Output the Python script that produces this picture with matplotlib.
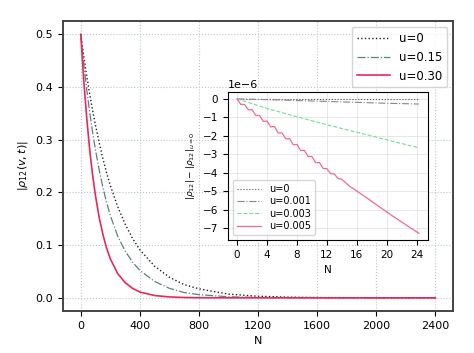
import matplotlib
matplotlib.use('Agg')
import matplotlib.pyplot as plt
import numpy as np

# main panel: |rho12| vs N
n_main = [0, 20, 40, 60, 80, 100, 125, 150, 175, 200, 250, 300, 350, 400,
          500, 600, 700, 800, 1000, 1200, 1400, 1600, 2000, 2400]
rho_u0 = [0.5, 0.459, 0.422, 0.387, 0.356, 0.327, 0.294, 0.264, 0.237, 0.213,
          0.173, 0.140, 0.113, 0.091, 0.060, 0.039, 0.025, 0.017, 0.007, 0.003,
          0.0013, 0.0005, 0.0001, 0.0]
rho_u015 = [0.5, 0.445, 0.396, 0.353, 0.314, 0.280, 0.242, 0.209, 0.181, 0.156,
            0.117, 0.089, 0.068, 0.052, 0.031, 0.018, 0.010, 0.006, 0.002, 0.0007,
            0.0002, 0.0001, 0.0, 0.0]
rho_u030 = [0.5, 0.413, 0.342, 0.282, 0.233, 0.193, 0.152, 0.120, 0.094, 0.074,
            0.046, 0.029, 0.018, 0.011, 0.0043, 0.0017, 0.0006, 0.0002, 0.0, 0.0,
            0.0, 0.0, 0.0, 0.0]
main_labels = ['u=0', 'u=0.15', 'u=0.30']

# inset: difference to u=0 (units of 1e-6)
n_ins = [0, 4, 8, 12, 16, 20, 24.3]
d_u0 = [0, 0, 0, 0, 0, 0, 0]
d_u001 = [0, -0.04, -0.09, -0.14, -0.19, -0.24, -0.28]
d_u003 = [0, -0.52, -0.97, -1.4, -1.81, -2.22, -2.65]
n_red = [0, 0.5, 1, 1.5, 2, 2.5, 3, 3.5, 4, 4.5, 5, 5.5, 6, 6.5, 7, 7.5, 8,
         8.5, 9, 9.5, 10, 10.5, 11, 11.5, 12, 12.5, 13, 13.5, 14,
         15, 16, 17, 18, 19, 20, 21, 22, 23, 24, 24.3]
d_u005 = [0, -0.3, -0.3, -0.6, -0.58, -0.9, -0.9, -1.22, -1.2, -1.52, -1.5,
          -1.85, -1.84, -2.17, -2.15, -2.48, -2.47, -2.8, -2.79, -3.13, -3.12,
          -3.46, -3.45, -3.77, -3.78, -4.05, -4.07, -4.32, -4.35,
          -4.72, -4.99, -5.27, -5.55, -5.84, -6.12, -6.4, -6.67, -6.94, -7.2, -7.28]
ins_labels = ['u=0', 'u=0.001', 'u=0.003', 'u=0.005']

plt.rcParams['font.size'] = 8

fig = plt.figure(figsize=(4.74, 3.53), dpi=100)
ax = fig.add_axes([0.133, 0.119, 0.823, 0.821])
ax.plot(n_main, rho_u0, ':', color='#222222', lw=1.0, label=main_labels[0])
ax.plot(n_main, rho_u015, '-.', color='#5f8080', lw=0.9, label=main_labels[1])
ax.plot(n_main, rho_u030, '-', color='#e8285a', lw=1.2, label=main_labels[2])
ax.set_xticks(range(0, 2401, 400))
ax.set_yticks([0.0, 0.1, 0.2, 0.3, 0.4, 0.5])
ax.set_xlabel('N')
ax.set_ylabel(r'$|\rho_{12}(v,t)|$')
ax.grid(True, ls=':', color='#b8c8cc', lw=0.8)
for s in ax.spines.values():
    s.set_linewidth(1.4)
    s.set_color('#444444')
ax.legend(loc='upper right', fontsize=8.5, handlelength=2.8, labelspacing=0.5)

axi = fig.add_axes([0.481, 0.320, 0.422, 0.419])
scale = 1e-6
axi.plot(n_ins, np.array(d_u0) * scale, ':', color='#555555', lw=0.8, label=ins_labels[0])
axi.plot(n_ins, np.array(d_u001) * scale, '-.', color='#888888', lw=0.8, label=ins_labels[1])
axi.plot(n_ins, np.array(d_u003) * scale, '--', color='#77dd99', lw=0.8, label=ins_labels[2])
axi.plot(n_red, np.array(d_u005) * scale, '-', color='#f06a90', lw=0.9, label=ins_labels[3])
axi.set_xticks(range(0, 25, 4))
axi.set_yticks(np.arange(-7, 1) * scale)
axi.set_xlabel('N', fontsize=7.5)
axi.set_ylabel(r'$|\rho_{12}|-|\rho_{12}|_{u=0}$', fontsize=6.5)
axi.tick_params(labelsize=7.5)
axi.grid(True, ls='-', color='#e4e4e4', lw=0.6)
axi.legend(loc='lower left', fontsize=7, handlelength=2.5, labelspacing=0.25)

fig.savefig('out.png', dpi=100)
